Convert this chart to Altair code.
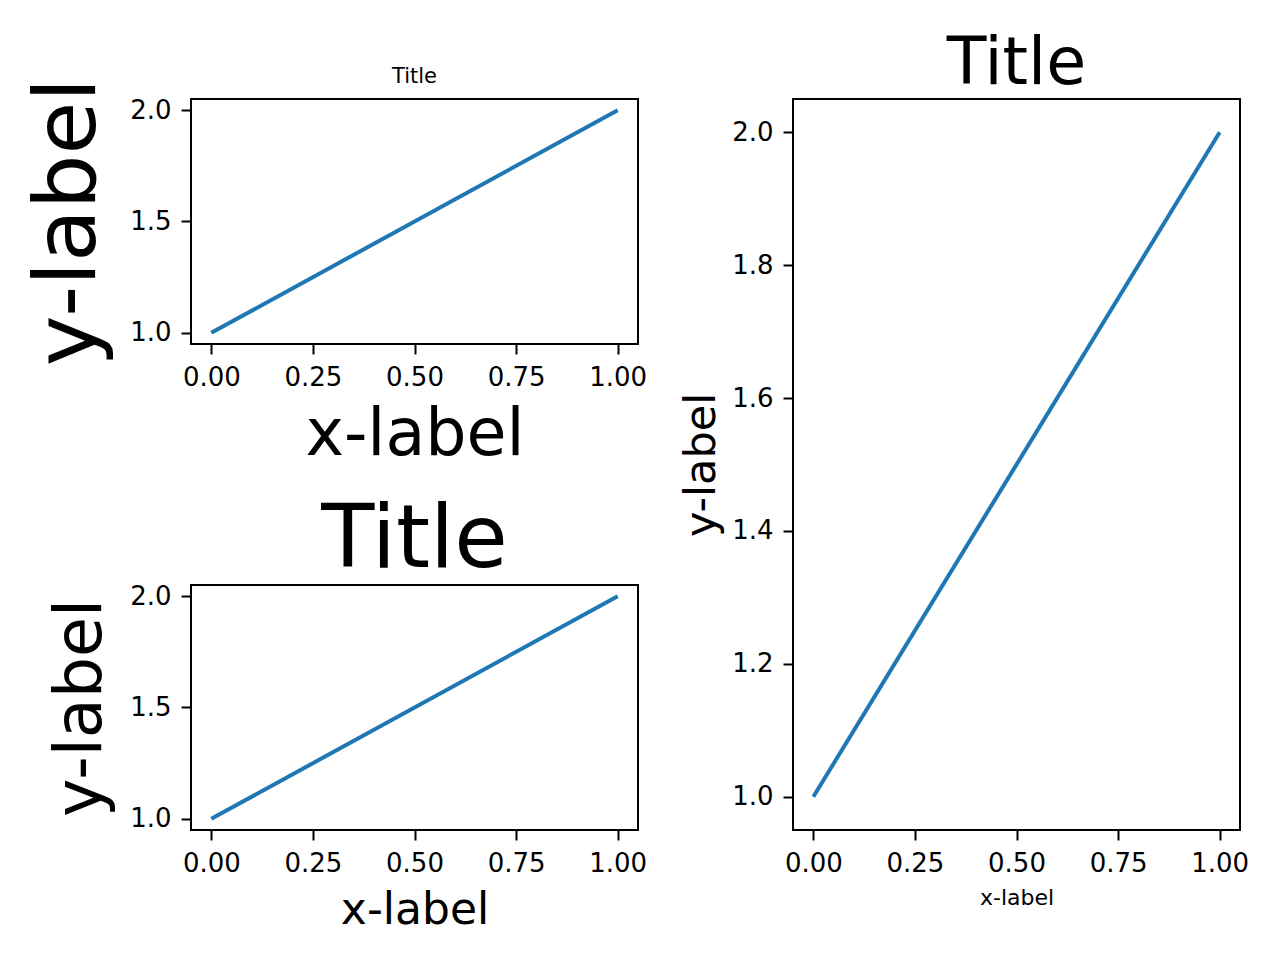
import altair as alt
import pandas as pd

x_vals = [0, 1]
y_vals = [1, 2]
x_ticks = [0, 0.25, 0.5, 0.75, 1.0]
y_ticks_left = [1.0, 1.5, 2.0]
y_ticks_right = [1.0, 1.2, 1.4, 1.6, 1.8, 2.0]

df = pd.DataFrame({"x": x_vals, "y": y_vals})

FONT = "DejaVu Sans"


def panel(w, h, title_size, title_offset, xlabel_size, xpad, ylabel_size, ypad, yticks):
    return alt.Chart(df).mark_line(color="#1f77b4", strokeWidth=4).encode(
        x=alt.X("x:Q",
                scale=alt.Scale(domain=[-0.05, 1.05], nice=False, zero=False),
                axis=alt.Axis(values=x_ticks, format=".2f", title="x-label",
                              titleFontSize=xlabel_size, titlePadding=xpad)),
        y=alt.Y("y:Q",
                scale=alt.Scale(domain=[0.95, 2.05], nice=False, zero=False),
                axis=alt.Axis(values=yticks, format=".1f", title="y-label",
                              titleFontSize=ylabel_size, titlePadding=ypad)),
    ).properties(
        width=w, height=h,
        title=alt.TitleParams("Title", fontSize=title_size, font=FONT,
                              fontWeight="normal", color="black",
                              anchor="middle", baseline="alphabetic",
                              offset=title_offset),
    )


tl = panel(447, 245, 21, -27, 65, 13, 86, 17, y_ticks_left)
bl = panel(447, 245, 87, -71, 44, 12, 65, 15, y_ticks_left)
rt = panel(447, 731, 65, -50, 22, 11, 43, 8, y_ticks_right)

left = alt.vconcat(tl, bl, spacing=241, bounds="flush")
chart = alt.hconcat(left, rt, spacing=31).properties(
    padding={"left": 16, "top": 23, "right": 5, "bottom": 5},
    background="white"
).configure_view(
    stroke="black", strokeWidth=2
).configure_axis(
    grid=False, domain=False, tickColor="black", tickSize=10, tickWidth=2,
    labelFont=FONT, labelFontSize=26, labelColor="black", labelPadding=10,
    titleFont=FONT, titleFontWeight="normal", titleColor="black",
    labelFlush=False, labelOverlap=False
)

chart.save("out.html", embed_options={"renderer": "svg", "actions": False})
